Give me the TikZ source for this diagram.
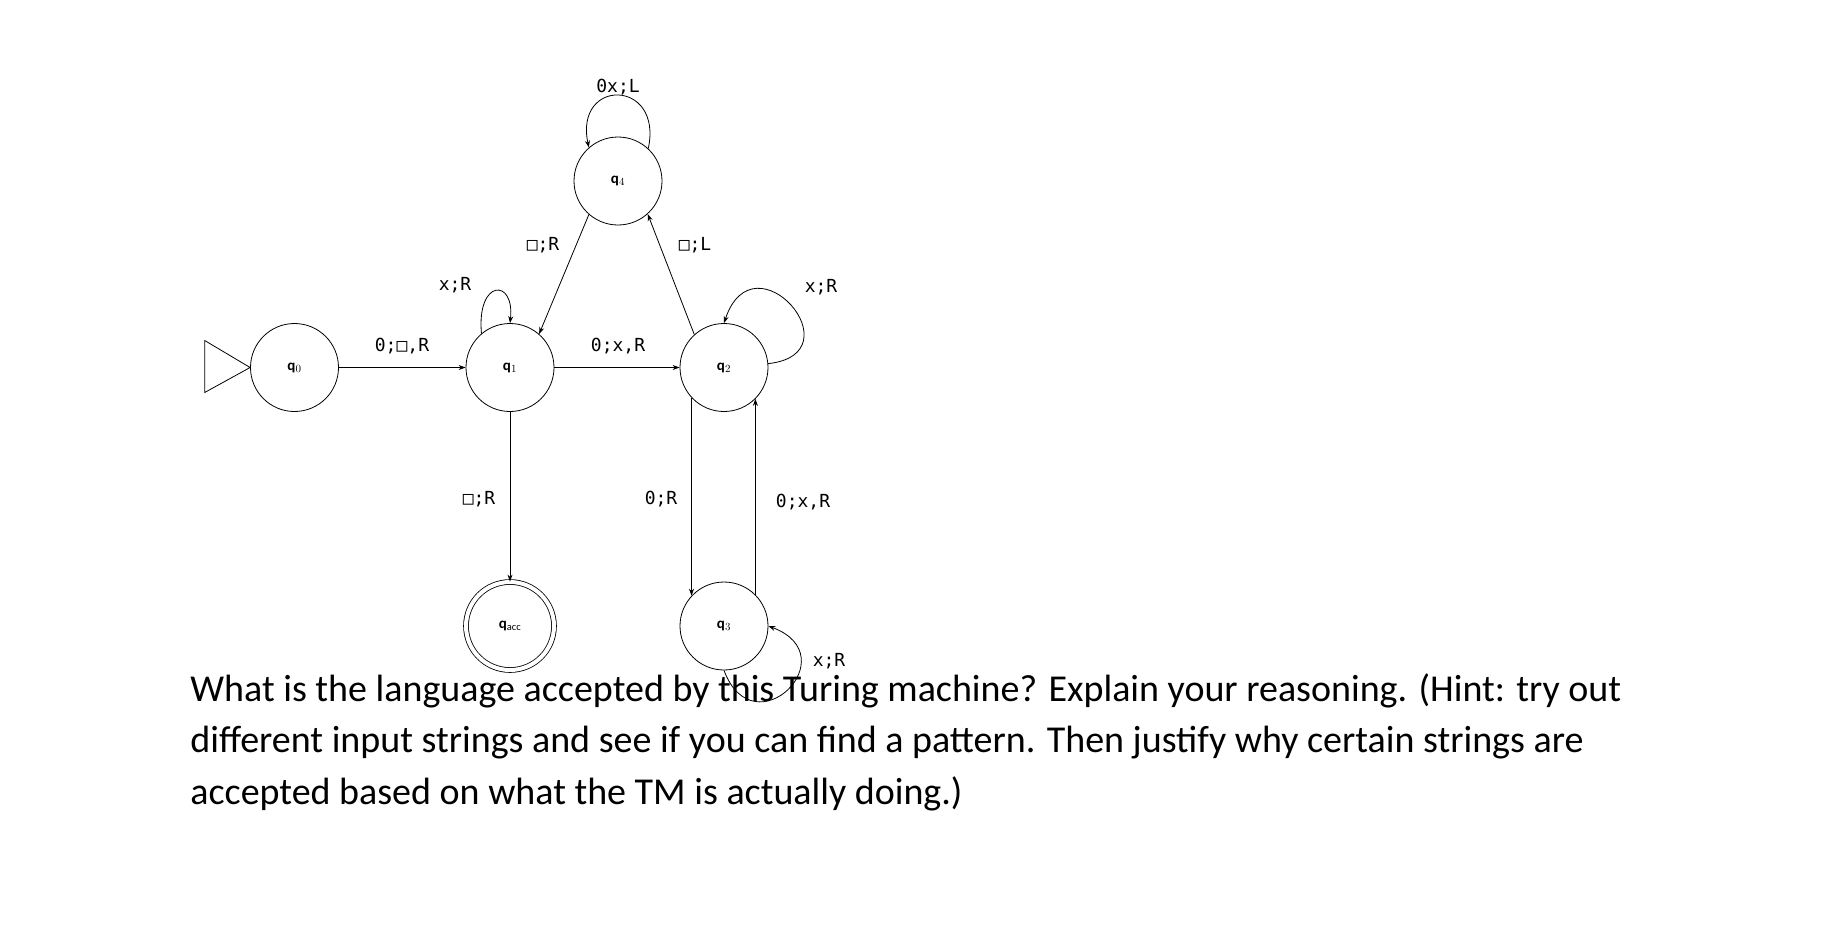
\documentclass[tikz,border=0pt]{standalone}
\usepackage{fontspec}
\setmainfont{Carlito}
\setmonofont{DejaVu Sans Mono}
\usetikzlibrary{arrows.meta}
\tikzstyle{state} = [circle, draw=black, minimum size=88pt, inner sep=0pt, font=\bfseries\fontsize{15}{17}\selectfont]
\tikzstyle{accept} = [state, double, double distance=4pt]
\tikzstyle{arrow} = [-{Stealth[length=7pt,width=5pt]}]
\tikzstyle{lbl} = [font=\ttfamily\fontsize{18}{20}\selectfont]

\begin{document}
\begin{tikzpicture}[x=1pt, y=-1pt, line width=0.8pt]
        \useasboundingbox (0,0) rectangle (1836,946);

            \node (q0) [state] at (294.5,367.5) {q$_0$};

            \node (q1) [state] at (510,367.5) {q$_1$};

            \node (q2) [state] at (724,367.5) {q$_2$};

            \node (q4) [state] at (618,181) {q$_4$};

            \node (qacc) [accept] at (510,626) {q$_{\mathrm{acc}}$};

            \node (q3) [state] at (724,626) {q$_3$};

            \draw (q0.west) -- (204.7,340.5) -- (204.7,392.5) -- cycle;

            \draw [arrow] (q0) -- (q1);
            \draw [arrow] (q1) -- (q2);
            \draw [arrow] (q1) -- (qacc);
            \draw [arrow] (q4.229) -- (q1.49);
            \draw [arrow] (q2.132) -- (q4.312);
            \draw [arrow] (q2.223) -- (q3.137);
            \draw [arrow] (q3.45) -- (q2.315);
            \draw [arrow] (q4.47) .. controls +(15,-70) and +(-15,-70) .. (q4.131);
            \draw [arrow] (q1.130) .. controls +(-5,-55) and +(5,-45) .. (q1.90);
            \draw [arrow] (q2.5) .. controls +(90,-10) and +(30,-90) .. (q2.90);
            \draw [arrow] (q3.270) .. controls +(30,80) and +(80,30) .. (q3.0);

            \node (l01) [lbl] at (402,346) {0;□,R};
            \node (l12) [lbl] at (618,346) {0;x,R};
            \node (l11) [lbl] at (455,285) {x;R};
            \node (l41) [lbl] at (543,245) {□;R};
            \node (l24) [lbl] at (695,245) {□;L};
            \node (l44) [lbl] at (618,87) {0x;L};
            \node (l22) [lbl] at (821,287) {x;R};
            \node (l1a) [lbl] at (479,499) {□;R};
            \node (l23) [lbl] at (661,499) {0;R};
            \node (l32) [lbl] at (803,502) {0;x,R};
            \node (l33) [lbl] at (829,661) {x;R};

            \node (question) [anchor=base west, align=left, inner sep=0pt, font=\fontsize{38}{51.5}\selectfont] at (190,804) {What is the language accepted by this Turing machine? Explain your reasoning. (Hint: try out\\ different input strings and see if you can find a pattern. Then justify why certain strings are\\ accepted based on what the TM is actually doing.)};

        \end{tikzpicture}
\end{document}
